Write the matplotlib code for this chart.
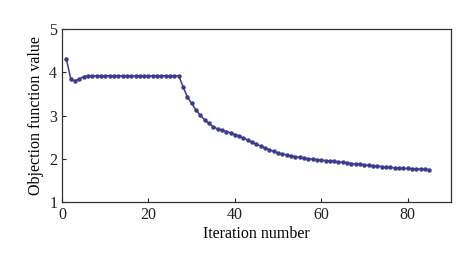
import numpy as np
import matplotlib.pyplot as plt

plt.rcParams['font.family'] = ['Liberation Serif', 'DejaVu Serif']

# objective value per iteration
iterations = list(range(1, 86))
objective = [4.30, 3.85, 3.80, 3.85, 3.90] + [3.92] * 22 + [
    3.67, 3.43, 3.28, 3.13, 3.01, 2.90, 2.82, 2.74, 2.69, 2.66,
    2.63, 2.60, 2.56, 2.52, 2.48, 2.43, 2.38, 2.34, 2.29, 2.25,
    2.21, 2.17, 2.14, 2.11, 2.09, 2.07, 2.05, 2.03, 2.01, 2.00,
    1.99, 1.98, 1.97, 1.96, 1.95, 1.94, 1.93, 1.92, 1.91, 1.89,
    1.88, 1.87, 1.86, 1.85, 1.84, 1.83, 1.82, 1.81, 1.80, 1.79,
    1.785, 1.78, 1.775, 1.77, 1.765, 1.76, 1.755, 1.75,
]
x_ticks = [0, 20, 40, 60, 80]
y_ticks = [1, 2, 3, 4, 5]

fig = plt.figure(figsize=(4.74, 2.62), dpi=100)
ax = fig.add_axes([0.131, 0.229, 0.82, 0.66])

ax.plot(iterations, objective, color='#3b3b8f', linewidth=1.1,
        marker='o', markersize=2.2)

ax.set_xlim(0, 90)
ax.set_ylim(1, 5)
ax.set_xticks(x_ticks)
ax.set_yticks(y_ticks)
ax.tick_params(direction='in', length=3, labelsize=11.5, colors='#222222')
ax.set_xlabel('Iteration number', fontsize=11.5, labelpad=2)
ax.set_ylabel('Objection function value', fontsize=11.5, labelpad=4)
for s in ax.spines.values():
    s.set_linewidth(0.9)
    s.set_color('#333333')

fig.savefig('out.png', dpi=100)
